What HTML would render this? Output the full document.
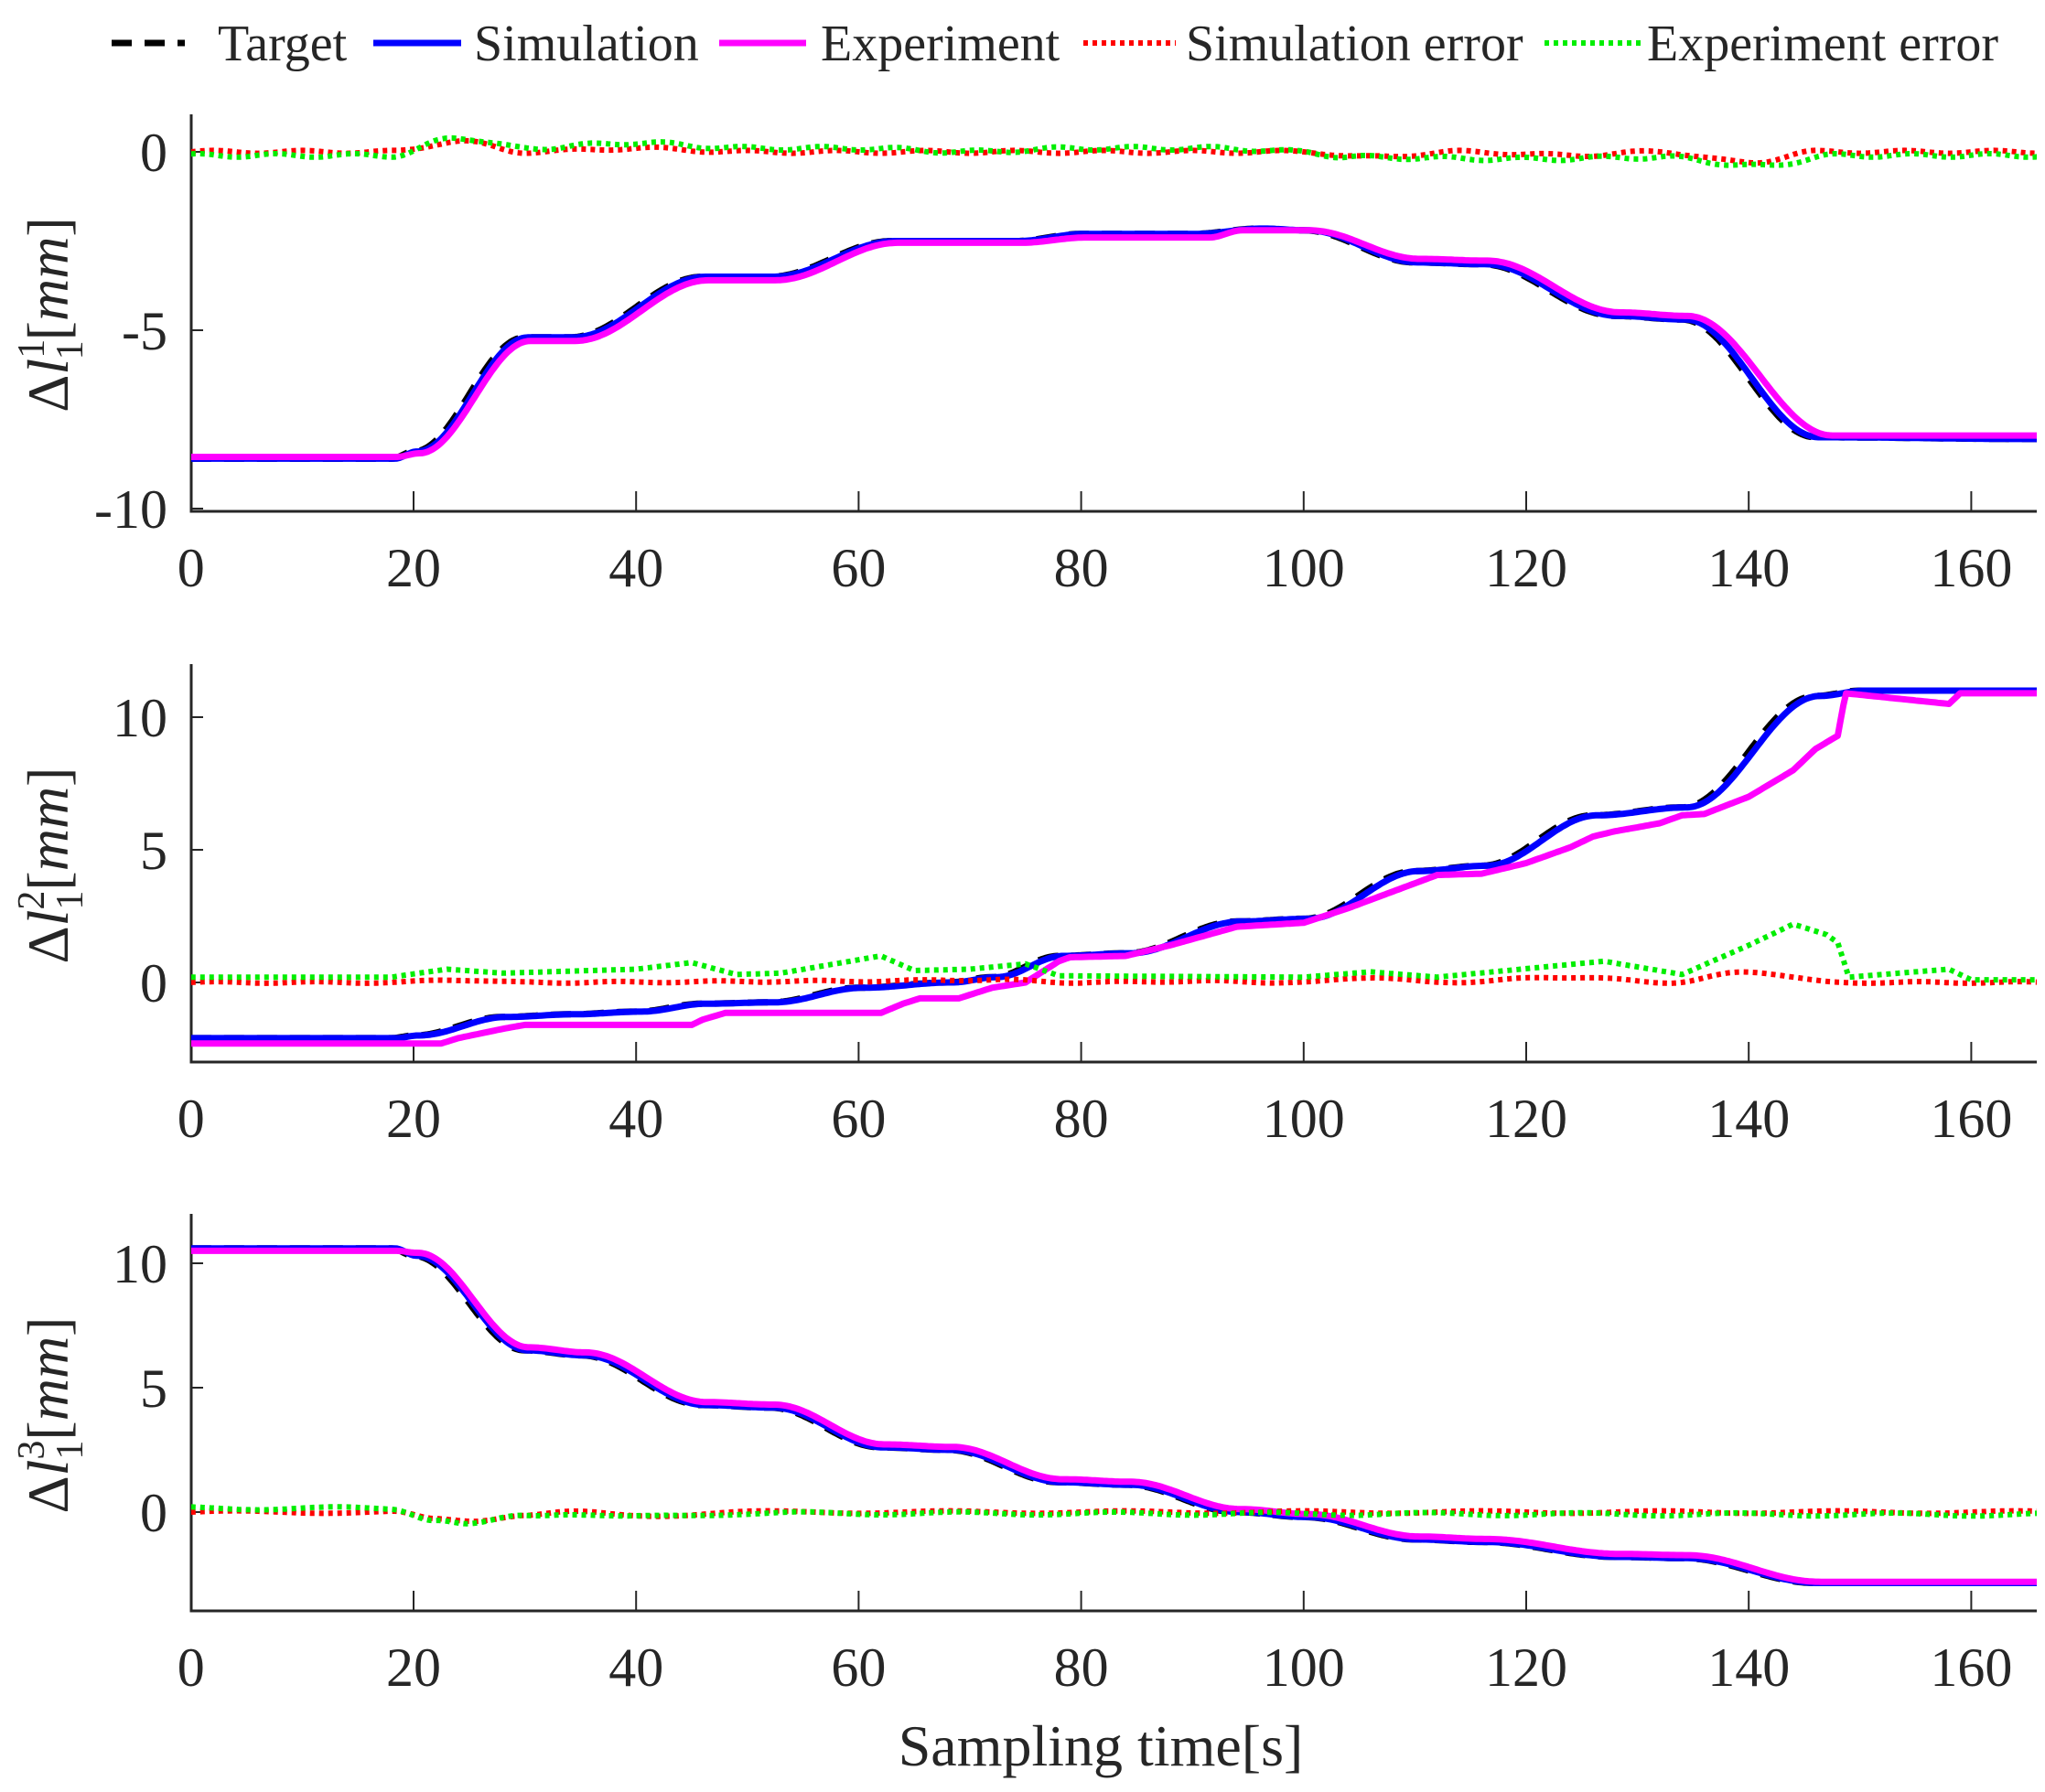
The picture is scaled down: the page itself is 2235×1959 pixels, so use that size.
<!DOCTYPE html>
<html><head><meta charset="utf-8"><style>
html,body{margin:0;padding:0;background:#fff}
svg{display:block}
text{font-family:"Liberation Serif",serif;fill:#262626}
</style></head><body>
<svg id="s" width="2235" height="1959" viewBox="0 0 2235 1959" xmlns="http://www.w3.org/2000/svg">
<defs>
<clipPath id="c1"><rect x="209" y="120" width="2017" height="445"/></clipPath>
<clipPath id="c2"><rect x="209" y="720" width="2017" height="445"/></clipPath>
<clipPath id="c3"><rect x="209" y="1320" width="2017" height="445"/></clipPath>
</defs>
<g font-size="56">
<line x1="122" y1="47" x2="202" y2="47" stroke="#000" stroke-width="7" stroke-dasharray="22,14"/>
<text x="238" y="66">Target</text>
<line x1="408" y1="47" x2="504" y2="47" stroke="#0000ff" stroke-width="7"/>
<text x="518" y="66">Simulation</text>
<line x1="786" y1="47" x2="881" y2="47" stroke="#ff00ff" stroke-width="7"/>
<text x="897" y="66">Experiment</text>
<line x1="1184" y1="47" x2="1285" y2="47" stroke="#ff0000" stroke-width="6" stroke-dasharray="5,5"/>
<text x="1296" y="66">Simulation error</text>
<line x1="1688" y1="47" x2="1793" y2="47" stroke="#00ee00" stroke-width="6" stroke-dasharray="5,5"/>
<text x="1800" y="66">Experiment error</text>
</g>
<g id="axes"></g>
<g id="data"></g>
<text x="1203" y="1930" font-size="64" text-anchor="middle">Sampling time[s]</text>
<g font-size="64">
<text transform="translate(74,344) rotate(-90)" text-anchor="middle">Δ<tspan font-style="italic">l</tspan><tspan font-size="42" dy="-26">1</tspan><tspan font-size="42" dx="-21" dy="42">1</tspan><tspan dy="-16">[</tspan><tspan font-style="italic">mm</tspan>]</text>
<text transform="translate(74,946) rotate(-90)" text-anchor="middle">Δ<tspan font-style="italic">l</tspan><tspan font-size="42" dy="-26">2</tspan><tspan font-size="42" dx="-21" dy="42">1</tspan><tspan dy="-16">[</tspan><tspan font-style="italic">mm</tspan>]</text>
<text transform="translate(74,1547) rotate(-90)" text-anchor="middle">Δ<tspan font-style="italic">l</tspan><tspan font-size="42" dy="-26">3</tspan><tspan font-size="42" dx="-21" dy="42">1</tspan><tspan dy="-16">[</tspan><tspan font-style="italic">mm</tspan>]</text>
</g>
</svg>
<script>
var NS="http://www.w3.org/2000/svg";
function el(p,n,a,t){var e=document.createElementNS(NS,n);for(var k in a)e.setAttribute(k,a[k]);if(t!==undefined)e.textContent=t;p.appendChild(e);return e;}
var X=function(t){return 208.8+t*12.16;};
var plots=[
 {top:125,axis:559,y0:166,k:39,ticks:[0,-5,-10],clip:"c1"},
 {top:726,axis:1161,y0:1074,k:29,ticks:[10,5,0],clip:"c2"},
 {top:1327,axis:1761,y0:1653,k:27.2,ticks:[10,5,0],clip:"c3"}
];
var ax=document.getElementById("axes"),dg=document.getElementById("data");
plots.forEach(function(p){
 el(ax,"line",{x1:209,y1:p.top,x2:209,y2:p.axis,stroke:"#262626","stroke-width":3});
 el(ax,"line",{x1:207.5,y1:p.axis,x2:2226,y2:p.axis,stroke:"#262626","stroke-width":3});
 for(var t=0;t<=160;t+=20){var x=X(t);
  if(t>0)el(ax,"line",{x1:x,y1:p.axis,x2:x,y2:p.axis-22,stroke:"#262626","stroke-width":2});
  el(ax,"text",{x:x,y:p.axis+82,"font-size":60,"text-anchor":"middle"},String(t));}
 p.ticks.forEach(function(v){var y=p.y0-p.k*v;
  el(ax,"line",{x1:209,y1:y,x2:222,y2:y,stroke:"#262626","stroke-width":2});
  el(ax,"text",{x:183,y:y+21,"font-size":60,"text-anchor":"end"},String(v));});
});
function interp(kp,t,lin){if(t<=kp[0][0])return kp[0][1];for(var i=0;i<kp.length-1;i++){var a=kp[i],b=kp[i+1];if(t>=a[0]&&t<=b[0]){var u=(t-a[0])/(b[0]-a[0]);if(!lin)u=(1-Math.cos(Math.PI*u))/2;return a[1]+(b[1]-a[1])*u;}}return kp[kp.length-1][1];}
function wav(amp,per,ph){return function(t){return amp*Math.sin(2*Math.PI*t/per+ph);};}
function draw(pi,kp,style,lin,shift,w){var p=plots[pi],d="";for(var t=0;t<=166;t+=0.25){var v=interp(kp,t-(shift||0),lin)+(w?w(t):0);d+=(t?"L":"M")+X(t).toFixed(1)+","+(p.y0-p.k*v).toFixed(1);}
 var a={d:d,fill:"none","stroke-width":style.w||6.5,stroke:style.c,"clip-path":"url(#"+p.clip+")","stroke-linejoin":"round"};if(style.da)a["stroke-dasharray"]=style.da;el(dg,"path",a);}
var K={c:"#000",da:"22,14",w:7},B={c:"#0000ff",w:7},M={c:"#ff00ff",w:7},R={c:"#ff0000",da:"5,5",w:6},G={c:"#00ee00",da:"5,5",w:6};
var t1=[[0,-8.6],[18,-8.6],[20,-8.4],[30,-5.2],[34,-5.2],[46,-3.5],[52,-3.5],[63,-2.5],[74,-2.5],[80,-2.3],[90,-2.3],[96,-2.15],[100,-2.2],[110,-3.1],[116,-3.15],[128,-4.6],[134,-4.7],[146,-8.0],[166,-8.05]];
var e1=[[0,-8.55],[18,-8.55],[20,-8.45],[30,-5.3],[34,-5.3],[46,-3.6],[52,-3.6],[63,-2.55],[74,-2.55],[80,-2.4],[91,-2.4],[94,-2.2],[100,-2.2],[110,-3.0],[116,-3.05],[128,-4.5],[134,-4.6],[147,-7.95],[166,-7.95]];
draw(0,t1,K);draw(0,t1,B,false,0.3);draw(0,e1,M,false,0.5);
draw(0,[[0,0],[18,0],[24,0.3],[30,0],[40,0.1],[50,0],[100,0],[106,-0.15],[114,0],[124,-0.1],[132,0],[140,-0.3],[146,0],[166,0]],R,false,0,wav(0.04,8,0));
draw(0,[[0,-0.1],[18,-0.1],[24,0.4],[30,0.1],[40,0.25],[50,0.1],[60,0.1],[70,0],[80,0.1],[92,0.1],[100,0],[104,-0.15],[120,-0.2],[132,-0.15],[141,-0.4],[148,-0.1],[166,-0.1]],G,false,0,wav(0.05,7,1));
var t2=[[0,-2.1],[18,-2.1],[20,-2.0],[28,-1.3],[34,-1.2],[40,-1.1],[46,-0.8],[52,-0.75],[60,-0.2],[68,0.0],[72,0.2],[78,1.0],[84,1.1],[94,2.3],[100,2.4],[110,4.2],[116,4.4],[126,6.3],[134,6.6],[146,10.8],[150,11],[166,11]];
var e2=[[0,-2.3],[22.5,-2.3],[24,-2.1],[28,-1.75],[30,-1.6],[45,-1.6],[46,-1.4],[48,-1.15],[62,-1.15],[64,-0.8],[65.5,-0.6],[69,-0.6],[72,-0.2],[75,0.0],[78,0.8],[79,0.95],[84,1.0],[88,1.4],[94,2.1],[100,2.25],[104,2.8],[112,4.05],[116,4.1],[120,4.5],[124,5.1],[126,5.5],[128,5.7],[132,6.0],[134,6.3],[136,6.35],[140,7.0],[144,8.0],[146,8.8],[148,9.3],[148.7,10.9],[158,10.5],[159,10.9],[166,10.9]];
draw(1,t2,K);draw(1,t2,B,false,0.4);draw(1,e2,M,true);
draw(1,[[0,0],[18,0],[24,0.1],[30,0],[60,0.05],[72,0.1],[80,0],[90,0.05],[100,0],[106,0.2],[112,0],[124,0.2],[133,0],[140,0.4],[148,0],[166,0]],R,false,0,wav(0.03,9,0));
draw(1,[[0,0.2],[18,0.2],[23,0.5],[28,0.35],[40,0.5],[45,0.75],[49,0.3],[53,0.35],[62,1.0],[65,0.45],[70,0.5],[75,0.7],[78,0.25],[100,0.2],[106,0.4],[112,0.2],[122,0.6],[127,0.8],[134,0.3],[140,1.4],[144,2.2],[147,1.8],[148,1.5],[149,0.2],[158,0.5],[160,0.1],[166,0.1]],G,true);
var t3=[[0,10.6],[18,10.6],[20,10.3],[30,6.5],[35,6.3],[46,4.3],[52,4.2],[62,2.6],[68,2.5],[78,1.2],[84,1.1],[94,0.0],[100,-0.2],[110,-1.1],[116,-1.2],[128,-1.8],[134,-1.85],[146,-2.85],[166,-2.85]];
var e3=t3.map(function(p){return [p[0]+0.4,p[1]+(p[0]<19?-0.1:(p[0]>140?0.05:0.12))];});e3[0][0]=0;
draw(2,t3,K);draw(2,t3,B,false,0.3);draw(2,e3,M);
draw(2,[[0,0],[18,0],[22,-0.3],[25,-0.35],[30,-0.1],[34,0],[40,-0.15],[50,0],[166,0]],R,false,0,wav(0.05,16,0));
draw(2,[[0,0.15],[18,0.15],[22,-0.3],[25,-0.5],[30,-0.15],[34,-0.05],[40,-0.2],[50,-0.05],[166,-0.1]],G,false,0,wav(0.06,14,2));
</script>
</body></html>
